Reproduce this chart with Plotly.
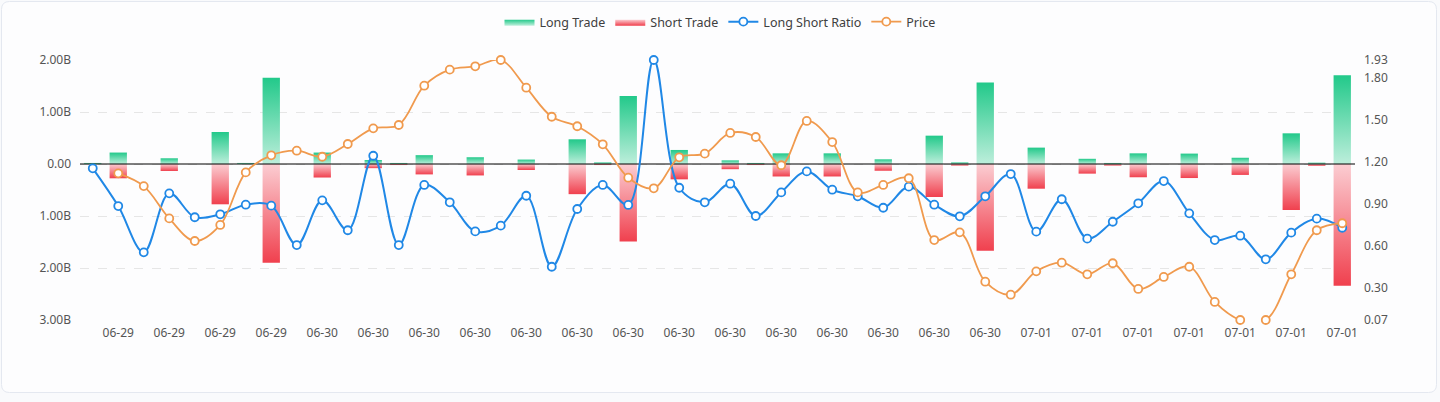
import plotly.graph_objects as go

# ---------------- data ----------------
dates = (["06-29"] * 9) + (["06-30"] * 28) + (["07-01"] * 13)

long_trade = [0.02, 0.22, 0.01, 0.11, 0.01, 0.615, 0.02, 1.66, 0.01, 0.22,
              0.01, 0.077, 0.02, 0.17, 0.01, 0.13, 0.01, 0.085, 0.0, 0.475,
              0.03, 1.31, 0.01, 0.27, 0.01, 0.07, 0.02, 0.205, 0.01, 0.205,
              0.01, 0.09, 0.01, 0.545, 0.03, 1.565, 0.01, 0.315, 0.01, 0.10,
              0.02, 0.205, 0.01, 0.20, 0.01, 0.12, 0.0, 0.59, 0.025, 1.705]
short_trade = [0.0, 0.275, 0.01, 0.135, 0.01, 0.775, 0.01, 1.90, 0.01, 0.26,
               0.01, 0.08, 0.02, 0.20, 0.01, 0.22, 0.01, 0.115, 0.0, 0.58,
               0.02, 1.49, 0.01, 0.295, 0.01, 0.10, 0.02, 0.24, 0.01, 0.24,
               0.01, 0.13, 0.01, 0.635, 0.03, 1.67, 0.01, 0.475, 0.01, 0.185,
               0.03, 0.255, 0.01, 0.27, 0.01, 0.21, 0.0, 0.885, 0.035, 2.34]
long_trade = [v * 1e9 for v in long_trade]
short_trade = [-v * 1e9 for v in short_trade]

ratio = [1.155, 0.885, 0.554, 0.976, 0.805, 0.826, 0.895, 0.888, 0.606, 0.926,
         0.712, 1.245, 0.606, 1.036, 0.912, 0.704, 0.745, 0.959, 0.451, 0.864,
         1.036, 0.893, 1.93, 1.016, 0.912, 1.045, 0.814, 0.983, 1.133, 1.002,
         0.955, 0.873, 1.024, 0.895, 0.812, 0.955, 1.114, 0.702, 0.934, 0.652,
         0.773, 0.905, 1.064, 0.833, 0.642, 0.673, 0.504, 0.695, 0.795, 0.730]

price = [None, 1.119, 1.028, 0.797, 0.635, 0.750, 1.126, 1.248, 1.281, 1.238,
         1.329, 1.441, 1.465, 1.746, 1.861, 1.885, 1.93, 1.732, 1.524, 1.456,
         1.327, 1.088, 1.012, 1.234, 1.260, 1.408, 1.379, 1.177, 1.494, 1.343,
         0.983, 1.036, 1.084, 0.642, 0.697, 0.344, 0.251, 0.418, 0.480, 0.397,
         0.476, 0.292, 0.378, 0.451, 0.199, 0.07, 0.07, 0.397, 0.712, 0.762]

left_ticks = [-3e9, -2e9, -1e9, 0, 1e9, 2e9]
left_text = ["3.00B", "2.00B", "1.00B", "0.00", "1.00B", "2.00B"]
right_ticks = [0.07, 0.30, 0.60, 0.90, 1.20, 1.50, 1.80, 1.93]

# ---------------- styling ----------------
GREEN_SOLID = "#22c98a"
GREEN_LIGHT = "#bdeedb"
RED_SOLID = "#f0404e"
RED_LIGHT = "#fbcdd2"
BLUE = "#2088e6"
ORANGE = "#f09a4e"
FONT = "Noto Sans"
BAR_W = 0.68

idx = list(range(len(dates)))
fig = go.Figure()

# gradient bars (one filled polygon per bar so each gets its own gradient)
for i in idx:
    xl, xr = i - BAR_W / 2, i + BAR_W / 2
    fig.add_trace(go.Scatter(
        x=[xl, xr, xr, xl, xl], y=[0, 0, long_trade[i], long_trade[i], 0],
        mode="lines", line=dict(width=0), fill="toself",
        fillcolor=GREEN_SOLID,
        fillgradient=dict(type="vertical",
                          colorscale=[[0, GREEN_LIGHT], [1, GREEN_SOLID]]),
        name="Long Trade", legendgroup="long", showlegend=(i == 0),
        hoverinfo="skip", legendrank=1))
    fig.add_trace(go.Scatter(
        x=[xl, xr, xr, xl, xl], y=[0, 0, short_trade[i], short_trade[i], 0],
        mode="lines", line=dict(width=0), fill="toself",
        fillcolor=RED_SOLID,
        fillgradient=dict(type="vertical",
                          colorscale=[[0, RED_SOLID], [1, RED_LIGHT]]),
        name="Short Trade", legendgroup="short", showlegend=(i == 0),
        hoverinfo="skip", legendrank=2))

# zero line above bars
fig.add_trace(go.Scatter(x=[-0.5, len(dates) - 0.5], y=[0, 0], mode="lines",
                         line=dict(color="#000000", width=1),
                         showlegend=False, hoverinfo="skip"))

fig.add_trace(go.Scatter(
    x=idx, y=ratio, yaxis="y2", name="Long Short Ratio", cliponaxis=False,
    mode="lines+markers", line=dict(color=BLUE, width=2, shape="spline", smoothing=1),
    marker=dict(symbol="circle", size=8, color="white", line=dict(color=BLUE, width=1.8)),
    legendrank=3))
fig.add_trace(go.Scatter(
    x=idx, y=price, yaxis="y2", name="Price", cliponaxis=False,
    mode="lines+markers", line=dict(color=ORANGE, width=1.8, shape="spline", smoothing=1),
    marker=dict(symbol="circle", size=8, color="white", line=dict(color=ORANGE, width=1.8)),
    legendrank=4))

# card outline (pixel-based frame converted into paper coords)
L, T, W, H = 80, 60, 1275, 260
def px(x): return (x - L) / W
def py(y): return (T + H - y) / H
x0, x1, y0, y1, r = 1.5, 1436.5, 1.5, 392.5, 8
path = (f"M {px(x0 + r)},{py(y0)} L {px(x1 - r)},{py(y0)} "
        f"Q {px(x1)},{py(y0)} {px(x1)},{py(y0 + r)} "
        f"L {px(x1)},{py(y1 - r)} Q {px(x1)},{py(y1)} {px(x1 - r)},{py(y1)} "
        f"L {px(x0 + r)},{py(y1)} Q {px(x0)},{py(y1)} {px(x0)},{py(y1 - r)} "
        f"L {px(x0)},{py(y0 + r)} Q {px(x0)},{py(y0)} {px(x0 + r)},{py(y0)} Z")

fig.update_layout(
    width=1440, height=402,
    margin=dict(l=L, r=1440 - L - W, t=T, b=402 - T - H),
    paper_bgcolor="#f9fafc", plot_bgcolor="rgba(0,0,0,0)",
    font=dict(family=FONT, size=12, color="#606266"),
    shapes=[dict(type="path", xref="paper", yref="paper", path=path,
                 fillcolor="#fdfdfe", line=dict(color="#e4e8f0", width=1),
                 layer="below")],
    legend=dict(orientation="h", xref="container", yref="container",
                x=0.5, xanchor="center", y=1 - 22 / 402, yanchor="middle",
                font=dict(size=12.5, color="#404040", family=FONT),
                bgcolor="rgba(0,0,0,0)", itemwidth=30),
    xaxis=dict(range=[-0.5, len(dates) - 0.5], tickmode="array",
               tickvals=idx[1::2], ticktext=dates[1::2],
               showgrid=False, zeroline=False, showline=False, ticks="",
               ticklabelstandoff=4,
               tickfont=dict(size=12, color="#555555")),
    yaxis=dict(range=[-3e9, 2e9], tickmode="array", tickvals=left_ticks,
               ticktext=left_text, showgrid=True, gridcolor="#e6e6e6",
               griddash="dash", gridwidth=1, zeroline=False, showline=False,
               ticks="", ticklabelstandoff=8,
               tickfont=dict(size=12, color="#555555")),
    yaxis2=dict(range=[0.07, 1.93], overlaying="y", side="right",
                tickmode="array", tickvals=right_ticks,
                ticktext=[f"{v:.2f}" for v in right_ticks],
                showgrid=False, zeroline=False, showline=False, ticks="",
                ticklabelstandoff=8,
                tickfont=dict(size=12, color="#555555")),
    hovermode="x",
)

fig.write_html("out.html")
